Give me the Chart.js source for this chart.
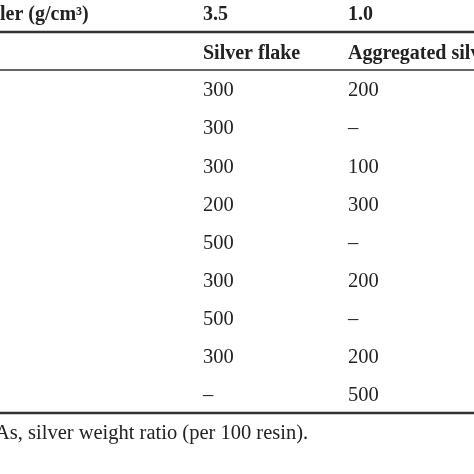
<!DOCTYPE html>
<html><head><meta charset="utf-8">
<script src="https://cdn.jsdelivr.net/npm/chart.js@4"></script>
<style>html,body{margin:0;padding:0;background:#fff}#c{width:474px;height:474px}</style>
</head><body><div id="c"><canvas id="tableChart"></canvas></div>
<script>
const headerTop = ['ler (g/cm\u00b3)', '3.5', '1.0'];
const headerSub = ['', 'Silver flake', 'Aggregated silver'];
const silverFlake = ['300', '300', '300', '200', '500', '300', '500', '300', '\u2013'];
const aggregated = ['200', '\u2013', '100', '300', '\u2013', '200', '\u2013', '200', '500'];
const footnote = 'As, silver weight ratio (per 100 resin).';

// layout (pixel-ish units on hidden 0..474 scales)
const colX = [0, 203, 348];
const rowY0 = 91, rowStep = 38.1;
const serif = '"Liberation Serif", "DejaVu Serif", serif';

const tablePlugin = {
  id: 'table',
  afterDraw(chart) {
    const c = chart.ctx, x = chart.scales.x, y = chart.scales.y;
    const px = v => x.getPixelForValue(v), py = v => y.getPixelForValue(v);
    c.save();
    c.fillStyle = '#222';
    c.textBaseline = 'middle';
    c.font = 'bold 20px ' + serif;
    headerTop.forEach((t, i) => c.fillText(t, px(colX[i]), py(15)));
    headerSub.forEach((t, i) => c.fillText(t, px(colX[i]), py(54)));
    c.font = '20.5px ' + serif;
    silverFlake.forEach((t, i) => c.fillText(t, px(colX[1]), py(rowY0 + i * rowStep)));
    aggregated.forEach((t, i) => c.fillText(t, px(colX[2]), py(rowY0 + i * rowStep)));
    c.fillText(footnote, px(-5), py(434));
    c.strokeStyle = '#333';
    [[32, 2.5], [70, 1.5], [413, 2.5]].forEach(([v, w]) => {
      c.lineWidth = w;
      c.beginPath(); c.moveTo(px(0), py(v)); c.lineTo(px(474), py(v)); c.stroke();
    });
    c.restore();
  }
};

new Chart(document.getElementById('tableChart').getContext('2d'), {
  type: 'scatter',
  data: { datasets: [{ data: [], pointRadius: 0 }] },
  options: {
    responsive: true, maintainAspectRatio: false, animation: false,
    layout: { padding: 0 },
    plugins: { legend: { display: false }, tooltip: { enabled: false } },
    scales: {
      x: { type: 'linear', min: 0, max: 474, display: false },
      y: { type: 'linear', min: 0, max: 474, reverse: true, display: false }
    }
  },
  plugins: [tablePlugin]
});
</script></body></html>
